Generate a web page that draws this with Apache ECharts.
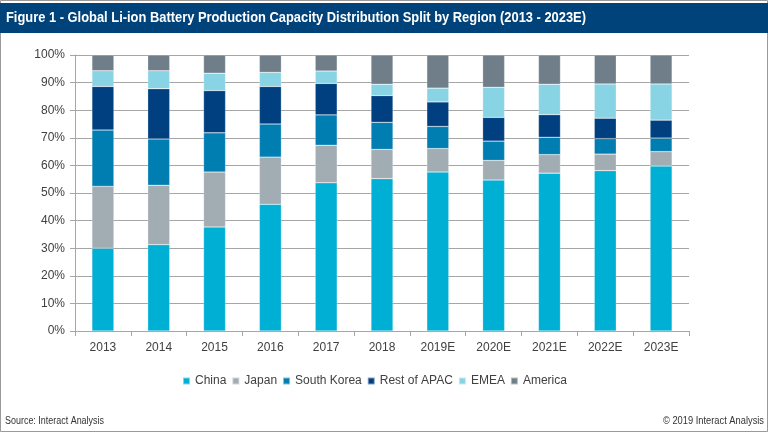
<!DOCTYPE html>
<html lang="en">
<head>
    <meta charset="UTF-8">
    <title>Global Li-ion Battery Production Capacity Distribution</title>
    <script src="https://cdn.jsdelivr.net/npm/echarts@6/dist/echarts.min.js"></script>
    <style>
        html, body { margin: 0; padding: 0; background: #fff; }
        #chart { width: 768px; height: 432px; }
    </style>
</head>
<body>
<div id="chart"></div>
<script>
    // years on the x axis
    var years = ['2013', '2014', '2015', '2016', '2017', '2018', '2019E', '2020E', '2021E', '2022E', '2023E'];

    // shares in percent
    var china      = [30.0, 31.3, 37.7, 45.9, 53.7, 55.2, 57.6, 54.7, 57.2, 58.1, 59.8];
    var japan      = [22.4, 21.5, 19.9, 17.1, 13.6, 10.6,  8.5,  7.1,  6.7,  6.0,  5.2];
    var southKorea = [20.4, 16.8, 14.2, 12.0, 11.0,  9.8,  8.0,  7.0,  6.3,  5.6,  4.9];
    var restApac   = [15.8, 18.2, 15.3, 13.6, 11.4,  9.7,  8.9,  8.6,  8.2,  7.4,  6.5];
    var emea       = [ 5.7,  6.5,  6.3,  5.1,  4.5,  4.1,  5.0, 10.9, 11.0, 12.4, 13.1];
    var america    = [ 5.7,  5.7,  6.6,  6.3,  5.8, 10.6, 12.0, 11.7, 10.6, 10.5, 10.5];

    var yTicks = [0, 10, 20, 30, 40, 50, 60, 70, 80, 90, 100];

    var seriesDefs = [
        { name: 'China', data: china, color: '#00AFD4' },
        { name: 'Japan', data: japan, color: '#A2ACB3' },
        { name: 'South Korea', data: southKorea, color: '#007DB1' },
        { name: 'Rest of APAC', data: restApac, color: '#003F80' },
        { name: 'EMEA', data: emea, color: '#88D4E4' },
        { name: 'America', data: america, color: '#6F7E88' }
    ];

    var titleText = 'Figure 1 - Global Li-ion Battery Production Capacity Distribution Split by Region (2013 - 2023E)';
    var sourceText = 'Source: Interact Analysis';
    var copyText = '\u00A9 2019 Interact Analysis';

    // no narrow font installed, so squeeze the text horizontally to the reference width
    var measureCtx = document.createElement('canvas').getContext('2d');
    function squeeze(text, font, targetWidth) {
        measureCtx.font = font;
        return targetWidth / measureCtx.measureText(text).width;
    }

    var titleFont = 'bold 14px "Liberation Sans", Arial, sans-serif';
    var footFont = '10px "Liberation Sans", Arial, sans-serif';
    var labelFont = '"Liberation Sans", Arial, sans-serif';

    var chart = echarts.init(document.getElementById('chart'));

    chart.setOption({
        animation: false,
        textStyle: { fontFamily: labelFont },
        graphic: [
            {
                type: 'rect',
                shape: { x: 0.5, y: 0.5, width: 767, height: 431 },
                style: { fill: 'none', stroke: '#9A9A9A', lineWidth: 1 },
                z: 0
            },
            {
                type: 'rect',
                shape: { x: 0, y: 3, width: 768, height: 30 },
                style: { fill: '#00427A' },
                z: 1
            },
            {
                type: 'text',
                x: 6, y: 18,
                scaleX: squeeze(titleText, titleFont, 580),
                style: { text: titleText, fill: '#fff', font: titleFont, verticalAlign: 'middle' },
                z: 2
            },
            {
                type: 'text',
                x: 5, y: 421,
                scaleX: squeeze(sourceText, footFont, 99),
                style: { text: sourceText, fill: '#333', font: footFont, verticalAlign: 'middle' }
            },
            {
                type: 'text',
                x: 764, y: 421,
                scaleX: squeeze(copyText, footFont, 101),
                style: { text: copyText, fill: '#333', font: footFont, align: 'right', verticalAlign: 'middle' }
            }
        ],
        legend: {
            top: 370,
            left: 177,
            itemWidth: 7,
            itemHeight: 7,
            itemGap: 5,
            icon: 'rect',
            textStyle: { color: '#404040', fontSize: 12, fontFamily: labelFont },
            data: seriesDefs.map(function (s) { return s.name; })
        },
        grid: { left: 75, right: 79, top: 55, bottom: 101 },
        xAxis: {
            type: 'category',
            data: years,
            axisLine: { lineStyle: { color: '#A6A6A6' } },
            axisTick: { show: true, length: 5, lineStyle: { color: '#A6A6A6' } },
            axisLabel: { color: '#404040', fontSize: 12, margin: 11 }
        },
        yAxis: {
            type: 'value',
            min: yTicks[0],
            max: yTicks[yTicks.length - 1],
            interval: 10,
            axisLine: { show: true, lineStyle: { color: '#A6A6A6' } },
            axisTick: { show: true, length: 5, lineStyle: { color: '#A6A6A6' } },
            splitLine: { lineStyle: { color: '#A6A6A6' } },
            axisLabel: { color: '#404040', fontSize: 12, margin: 10, formatter: '{value}%' }
        },
        series: seriesDefs.map(function (s) {
            return {
                name: s.name,
                type: 'bar',
                stack: 'total',
                barWidth: 22,
                data: s.data,
                itemStyle: { color: s.color, borderColor: 'rgba(255,255,255,0.5)', borderWidth: 0.5 }
            };
        })
    });
</script>
</body>
</html>
